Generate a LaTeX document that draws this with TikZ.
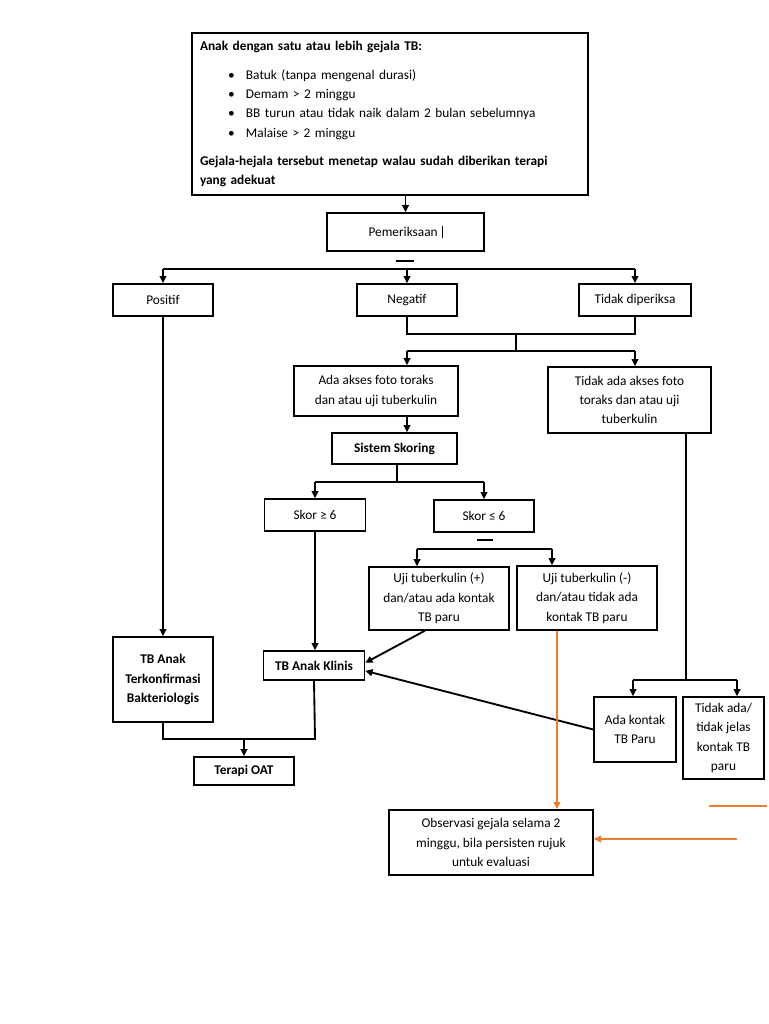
\documentclass[tikz,border=0pt]{standalone}
\usepackage{fontspec}
\setmainfont{Carlito}
\usetikzlibrary{arrows.meta,calc}
\newcommand{\FlowFont}{\fontsize{10}{14.5}\selectfont}
\newcommand{\FlowBul}{\hspace*{21pt}\makebox[13.5pt][l]{\textbullet}}
\definecolor{ObsOrange}{RGB}{237,125,49}
\tikzset{
  every node/.style={align=center, font=\FlowFont},
  %% boxes
  box/.style={draw=black, line width=1pt, inner sep=3pt},
  bbox/.style={box, font=\FlowFont\bfseries},
  sz/.style 2 args={minimum width=#1*0.75pt, minimum height=#2*0.75pt},
  %% connectors
  ln/.style={line width=1.4pt, black},
  arr/.style={ln, -{Triangle[length=5.5pt,width=5pt]}},
  oarr/.style={line width=1.1pt, ObsOrange, -{Triangle[length=5.5pt,width=5pt]}},
}

\begin{document}
\begin{tikzpicture}[x=0.75pt, y=-0.75pt]
\useasboundingbox (0,0) rectangle (768,1024);

%% ---- header box ----
\node[box, sz={396}{162}, text width=285pt, align=left] (TOP) at (390,114) {%
  \textbf{Anak dengan satu atau lebih gejala TB:}\\[7pt]
  \FlowBul Batuk (tanpa mengenal durasi)\\
  \FlowBul Demam > 2 minggu\\
  \FlowBul BB turun atau tidak naik dalam 2 bulan sebelumnya\\
  \FlowBul Malaise > 2 minggu\\[6.5pt]
  \textbf{Gejala-hejala tersebut menetap walau sudah diberikan terapi}\\
  \textbf{yang adekuat}};

\node[box, sz={157}{38}] (PEM) at (405.5,232)
  {Pemeriksaan\hspace{3pt}\rule[-1pt]{0.6pt}{9pt}};

%% ---- first split ----
\node[box, sz={100}{32}] (POS) at (163,300) {Positif};
\node[box, sz={100}{32}] (NEG) at (407,300) {Negatif};
\node[box, sz={112}{32}] (TDP) at (635,300) {Tidak diperiksa};

%% ---- access ----
\node[box, sz={164}{50}] (AKS) at (376,391)
  {Ada akses foto toraks\\dan atau uji tuberkulin};
\node[box, sz={163}{66}] (TAK) at (629.5,400)
  {Tidak ada akses foto\\toraks dan atau uji\\tuberkulin};
\node[bbox, sz={125}{31}] (SKOR) at (394.5,448.5) {Sistem Skoring};

%% ---- score ----
\node[box, sz={101}{32}] (SGE) at (315,515) {Skor ≥ 6};
\node[box, sz={100}{32}] (SLE) at (484,516) {Skor ≤ 6};

\node[box, sz={140}{63}] (UJP) at (439,598.5)
  {Uji tuberkulin (+)\\dan/atau ada kontak\\TB paru};
\node[box, sz={140}{64}] (UJN) at (587,598)
  {Uji tuberkulin (-)\\dan/atau tidak ada\\kontak TB paru};

%% ---- outcomes ----
\node[bbox, sz={100}{85}] (TBK) at (163,679.5)
  {TB Anak\\Terkonfirmasi\\Bakteriologis};
\node[bbox, sz={101}{29}] (KLN) at (314,665.5) {TB Anak Klinis};
\node[bbox, sz={100}{28}] (TOAT) at (244,771) {Terapi OAT};

\node[box, sz={82}{65}] (AKT) at (635,729.5) {Ada kontak\\TB Paru};
\node[box, sz={81}{82}] (TJK) at (723.5,738)
  {Tidak ada/\\tidak jelas\\kontak TB\\paru};

\node[box, sz={204}{65}] (OBS) at (491,842.5)
  {Observasi gejala selama 2\\minggu, bila persisten rujuk\\untuk evaluasi};

%% ---- branch points ----
\coordinate (BrA) at (404,269);
\coordinate (JnA) at (516,334);
\coordinate (JnB) at (516,351);
\coordinate (BrB) at (397,482);
\coordinate (BrC1) at (417,549);
\coordinate (BrC2) at (552,549);
\coordinate (JnC) at (315,739);
\coordinate (BrD) at (686,680);
\coordinate (BrD1) at (633,680);
\coordinate (BrD2) at (737,680);
\coordinate (OrB) at (737,839);

%% ---- connectors ----
\draw[arr] (PEM.north |- TOP.south) -- (PEM.north);
\draw[ln] (396,261) -- (414,261);

\draw[ln] (BrA -| POS.north) -- (BrA -| TDP.north);
\foreach \n in {POS,NEG,TDP}
  \draw[arr] (BrA -| \n.north) -- (\n.north);

\draw[ln] (NEG.south) |- (JnA) -| (TDP.south);
\draw[ln] (JnA) -- (JnB);
\draw[ln] (JnB -| NEG.south) -- (JnB -| TDP.south);
\draw[arr] (JnB -| NEG.south) -- (NEG.south |- AKS.north);
\draw[arr] (JnB -| TDP.south) -- (TDP.south |- TAK.north);

\draw[arr] (NEG.south |- AKS.south) -- (NEG.south |- SKOR.north);
\draw[ln] (BrB |- SKOR.south) -- (BrB);
\draw[ln] (BrB -| SGE.north) -- (BrB -| SLE.north);
\draw[arr] (BrB -| SGE.north) -- (SGE.north);
\draw[arr] (BrB -| SLE.north) -- (SLE.north);

\draw[ln] (477,540) -- (493,540);
\draw[ln] (BrC1) -- (BrC2);
\draw[arr] (BrC1) -- (BrC1 |- UJP.north);
\draw[arr] (BrC2) -- (BrC2 |- UJN.north);

\draw[arr] (POS.south) -- (TBK.north);
\draw[arr] (SGE.south) -- (SGE.south |- KLN.north);
\draw[arr] ([xshift=-10.5pt]UJP.south) -- ([yshift=2pt]KLN.east);
\draw[arr] (AKT.west) -- ([yshift=-4pt]KLN.east);

\draw[ln] (TBK.south) |- (JnC) -- (KLN.south);
\draw[arr] (TOAT.north |- JnC) -- (TOAT.north);

\draw[ln] (BrD |- TAK.south) -- (BrD);
\draw[ln] (BrD1) -- (BrD2);
\draw[arr] (BrD1) -- (BrD1 |- AKT.north);
\draw[arr] (BrD2) -- (BrD2 |- TJK.north);

%% ---- orange ----
\draw[oarr] ([xshift=-22.5pt]UJN.south) -- ([xshift=-22.5pt]UJN.south |- OBS.north);
\draw[oarr] (OrB) -- (OrB -| OBS.east);
\draw[line width=1.1pt, ObsOrange] (709,806) -- (767,806);

\end{tikzpicture}
\end{document}
